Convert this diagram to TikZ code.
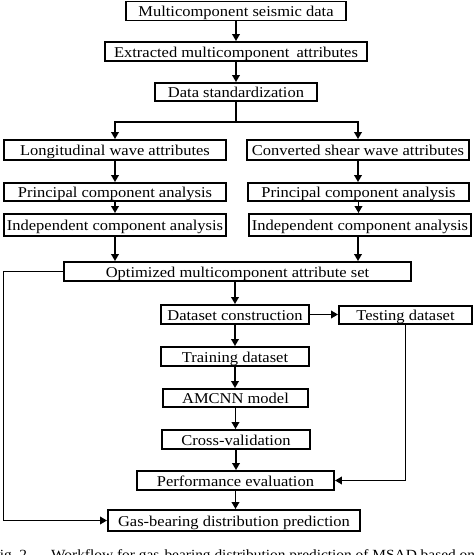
\documentclass[tikz,border=0pt]{standalone}
\usepackage{fontspec}
\setmainfont{Liberation Serif}[FakeStretch=1.1]
\usetikzlibrary{arrows.meta}
\begin{document}
\begin{tikzpicture}[x=1pt,y=-1pt,
  box/.style={draw, line width=1.9pt, inner sep=0pt, text height=11pt, text depth=0pt,
    font=\fontsize{15}{18}\selectfont},
  arr/.style={line width=1.9pt, -{Triangle[length=7pt,width=7.5pt]}},
  ln/.style={line width=1.9pt}]
\useasboundingbox (0,0) rectangle (474,555);
% boxes
\node[box, minimum width=220pt, minimum height=19pt] (b1) at (236,11) {Multicomponent seismic data};
\node[box, minimum width=262pt, minimum height=19pt] (b2) at (236,51.5) {Extracted multicomponent\hspace{7pt}attributes};
\node[box, minimum width=162pt, minimum height=18pt] (b3) at (236,92) {Data standardization};
\node[box, minimum width=222pt, minimum height=20pt] (L1) at (115,150) {Longitudinal wave attributes};
\node[box, minimum width=222pt, minimum height=20pt] (R1) at (358,150) {Converted shear wave attributes};
\node[box, minimum width=222pt, minimum height=18pt] (L2) at (115,192) {Principal component analysis};
\node[box, minimum width=221pt, minimum height=18pt] (R2) at (358.5,192) {Principal component analysis};
\node[box, minimum width=222pt, minimum height=22pt] (L3) at (115,225) {Independent component analysis};
\node[box, minimum width=222pt, minimum height=22pt] (R3) at (360,225) {Independent component analysis};
\node[box, minimum width=347pt, minimum height=19pt] (opt) at (237.5,271.5) {Optimized multicomponent attribute set};
\node[box, minimum width=148pt, minimum height=19pt] (dc) at (235,314.5) {Dataset construction};
\node[box, minimum width=133pt, minimum height=18pt] (td) at (405.5,315) {Testing dataset};
\node[box, minimum width=148pt, minimum height=19pt] (tr) at (235,356.5) {Training dataset};
\node[box, minimum width=145pt, minimum height=18pt] (am) at (235.5,398) {AMCNN model};
\node[box, minimum width=148pt, minimum height=19pt] (cv) at (236,439.5) {Cross-validation};
\node[box, minimum width=197pt, minimum height=19pt] (pe) at (235.5,480.5) {Performance evaluation};
\node[box, minimum width=252pt, minimum height=21pt] (gas) at (234,520.5) {Gas-bearing distribution prediction};
% caption (cut off by the page edge, as in the reference)
\node[anchor=base west, inner sep=0pt, font=\fontsize{14}{16}\selectfont] (cap) at (-9,559)
  {Fig.~2\hspace{24pt}Workflow for gas-bearing distribution prediction of MSAD based on};
% connectors
\draw[arr] (b1.south) -- (b1.south |- b2.north);
\draw[arr] (b2.south) -- (b2.south |- b3.north);
\coordinate (jn) at (236,122);
\draw[ln] (b3.south) -- (jn);
\draw[arr] (jn) -| (L1.north);
\draw[arr] (jn) -| (R1.north);
\draw[arr] (L1.south) -- (L1.south |- L2.north);
\draw[arr] (R1.south) -- (R1.south |- R2.north);
\draw[arr] (L2.south) -- (L2.south |- L3.north);
\draw[arr] (R2.south) -- (R2.south |- R3.north);
\draw[arr] (L3.south) -- (L3.south |- opt.north);
\draw[arr] (R1.south |- R3.south) -- (R1.south |- opt.north);
\draw[arr] (dc.north |- opt.south) -- (dc.north);
\draw[arr] (dc.east) -- (dc.east -| td.west);
\draw[arr] (dc.south) -- (dc.south |- tr.north);
\draw[arr] (tr.south) -- (tr.south |- am.north);
\draw[arr] (am.south) -- (am.south |- cv.north);
\draw[arr] (cv.south) -- (cv.south |- pe.north);
\draw[arr] (pe.south) -- (pe.south |- gas.north);
\draw[arr] (td.south) |- (pe.east);
\coordinate (lf) at (3.5,271.5);
\draw[arr] (opt.west) -- (lf) |- (gas.west);
\end{tikzpicture}
\end{document}
